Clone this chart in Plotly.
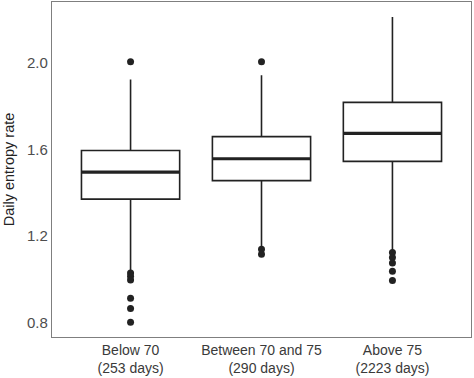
import plotly.graph_objects as go

categories = ["Below 70<br>(253 days)", "Between 70 and 75<br>(290 days)", "Above 75<br>(2223 days)"]
q1 = [1.371, 1.456, 1.545]
median = [1.495, 1.557, 1.674]
q3 = [1.595, 1.659, 1.817]
lower_whisker = [1.04, 1.148, 1.132]
upper_whisker = [1.922, 1.942, 2.211]
outliers = [
    [2.005, 1.03, 1.015, 0.998, 0.914, 0.866, 0.803],
    [2.005, 1.14, 1.117],
    [1.125, 1.102, 1.076, 1.038, 0.995],
]
y_ticks = [0.8, 1.2, 1.6, 2.0]

box_w = 0.75
line_c = "#222222"
fig = go.Figure()
for i in range(len(categories)):
    fig.add_trace(go.Box(
        x=[i], q1=[q1[i]], median=[median[i]], q3=[q3[i]],
        lowerfence=[lower_whisker[i]], upperfence=[upper_whisker[i]],
        width=box_w, whiskerwidth=0, boxpoints=False,
        fillcolor="white", line=dict(color=line_c, width=1.6),
        showlegend=False, hoverinfo="skip"))
    fig.add_trace(go.Scatter(
        x=[i - box_w / 2, i + box_w / 2], y=[median[i], median[i]],
        mode="lines", line=dict(color=line_c, width=3.2),
        showlegend=False, hoverinfo="skip"))
    fig.add_trace(go.Scatter(
        x=[i] * len(outliers[i]), y=outliers[i], mode="markers",
        marker=dict(color=line_c, size=7), showlegend=False, hoverinfo="skip"))

fig.update_layout(
    width=474, height=378,
    margin=dict(l=52, r=3, t=2, b=41, autoexpand=False),
    paper_bgcolor="white", plot_bgcolor="white",
    font=dict(family="Liberation Sans, Arial, sans-serif", color="#4d4d4d"),
)
fig.update_xaxes(
    range=[-0.6, 2.6], tickvals=list(range(len(categories))), ticktext=categories,
    showgrid=False, zeroline=False, showline=True, mirror=True, automargin=False,
    linecolor="#7f7f7f", linewidth=1.2, ticks="", tickfont=dict(size=14, color="#3a3a3a"))
fig.update_yaxes(
    range=[0.735, 2.28], tickvals=y_ticks, ticktext=[f"{v:.1f}" for v in y_ticks],
    showgrid=False, zeroline=False, showline=True, mirror=True, automargin=False,
    linecolor="#7f7f7f", linewidth=1.2, ticks="", tickfont=dict(size=15, color="#4d4d4d"),
    title=dict(text="Daily entropy rate", font=dict(size=14.5, color="#222222"), standoff=8))

fig.write_html("out.html", config={"displayModeBar": False},
               post_script="document.body.style.margin='0';document.body.style.padding='0';")
